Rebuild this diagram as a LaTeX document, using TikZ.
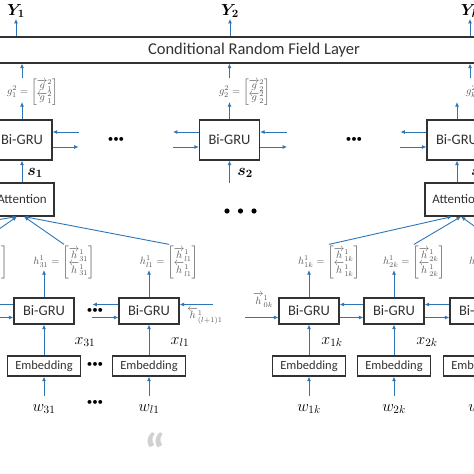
\documentclass[tikz,border=0pt]{standalone}
\usepackage{fix-cm}
\usepackage{amsmath}
\usepackage{bm}
\usepackage{fontspec}
\setmainfont{Carlito}
\usetikzlibrary{positioning, arrows.meta}

\definecolor{linkblue}{RGB}{46,117,182}
\definecolor{boxline}{RGB}{50,50,50}
\definecolor{labgray}{RGB}{85,85,85}

\newcommand{\vecpair}[3]{$#1^{#2}_{#3}=\begin{bmatrix}\overrightarrow{#1}^{#2}_{#3}\\ \overleftarrow{#1}^{#2}_{#3}\end{bmatrix}$}

\begin{document}
\begin{tikzpicture}[
    x=1pt, y=-1pt,
    gru/.style={rectangle, draw=boxline, line width=1.2pt, minimum width=60pt,
        minimum height=40pt, text=boxline, font=\fontsize{14.5}{16}\selectfont},
    grusmall/.style={gru, minimum height=26pt},
    emb/.style={rectangle, draw=boxline, line width=1.2pt, minimum width=73pt,
        minimum height=20pt, text=boxline, font=\fontsize{12.5}{14}\selectfont},
    att/.style={emb, minimum width=64pt, minimum height=33pt, font=\fontsize{13}{15}\selectfont},
    crf/.style={emb, minimum width=520pt, minimum height=26pt, font=\fontsize{16.5}{18}\selectfont},
    arr/.style={draw=linkblue, line width=1pt, -{Latex[length=4.5pt,width=4pt]}},
    feed/.style={draw=linkblue, line width=0.9pt, -{Latex[length=4.5pt,width=4pt]}},
    mlab/.style={inner sep=1pt, font=\fontsize{16}{18}\selectfont},
    wlab/.style={mlab, inner ysep=8pt},
    vlab/.style={inner sep=1pt, text=labgray, font=\fontsize{10.5}{12}\selectfont},
    dots/.style={inner sep=0pt, font=\fontsize{11}{12}\selectfont}
]
    \useasboundingbox (0,0) rectangle (474,474);
    \clip (0,0) rectangle (474,474);

    % CRF layer and outputs
    \node[crf] (crf) at (254,50) {Conditional Random Field Layer};
    \node[mlab] (y1) at (16,11) {$\bm{Y}_{\bm{1}}$};
    \node[mlab] (y2) at (230,11) {$\bm{Y}_{\bm{2}}$};
    \node[mlab] (yk) at (470,11) {$\bm{Y}_{\bm{k}}$};
    \foreach \y in {y1,y2,yk}
        \draw[arr] (crf.north -| \y) -- (\y.south);

    % Sentence-level Bi-GRU
    \node[gru] (u1) at (22,140) {Bi-GRU};
    \node[gru] (u2) at (229.5,140) {Bi-GRU};
    \node[gru] (uk) at (457,140) {Bi-GRU};
    \node[dots] (du1) at (116,140) {\textbullet\textbullet\textbullet};
    \node[dots] (du2) at (354,140) {\textbullet\textbullet\textbullet};

    \node[vlab] (g1) at (32.5,92) {\vecpair{g}{2}{1}};
    \node[vlab] (g2) at (244.5,92) {\vecpair{g}{2}{2}};
    \node[vlab, anchor=west] (gk) at (465,92) {\vecpair{g}{2}{k}};
    \foreach \u/\g in {u1/g1, u2/g2, uk/gk}
        \draw[arr, shorten >=10pt] (\u.north) -- (\u.north |- \g.center);
    \foreach \u/\g in {u1/g1, u2/g2}
        \draw[arr, shorten <=14pt] (\u.north |- \g.center) -- (\u.north |- crf.south);
    \draw[arr, shorten <=14pt] (yk |- gk.center) -- (yk |- crf.south);

    \draw[arr] ([xshift=26pt,yshift=8pt]u1.east) -- ([yshift=8pt]u1.east);
    \draw[arr] ([yshift=-7pt]u1.east) -- ([xshift=26pt,yshift=-7pt]u1.east);
    \draw[arr] ([yshift=8pt]u2.west) -- ([xshift=-26pt,yshift=8pt]u2.west);
    \draw[arr] ([xshift=-26pt,yshift=-7pt]u2.west) -- ([yshift=-7pt]u2.west);
    \draw[arr] ([xshift=27pt,yshift=8pt]u2.east) -- ([yshift=8pt]u2.east);
    \draw[arr] ([yshift=-7pt]u2.east) -- ([xshift=27pt,yshift=-7pt]u2.east);
    \draw[arr] ([yshift=8pt]uk.west) -- ([xshift=-26pt,yshift=8pt]uk.west);
    \draw[arr] ([xshift=-26pt,yshift=-7pt]uk.west) -- ([yshift=-7pt]uk.west);

    % Attention
    \node[att] (a1) at (22,199.5) {Attention};
    \node[att] (ak) at (457,199.5) {Attention};
    \coordinate (a2) at (229.5,183);
    \node[mlab] (s1) at (35,173) {$\bm{s}_{\bm{1}}$};
    \node[mlab] (s2) at (245,173) {$\bm{s}_{\bm{2}}$};
    \node[mlab] (sk) at (479,173) {$\bm{s}_{\bm{k}}$};
    \draw[arr] (a1) -- (u1);
    \draw[arr] (a2) -- (u2.south);
    \draw[arr] (ak) -- (uk);
    \foreach \x in {227,240.5,254}
        \fill (\x,211) circle (2.6pt);

    % Word-level Bi-GRU
    \foreach \n/\x/\o in {21/-43/33, 31/44/41, l1/149/31, 1k/309/23, 2k/394/33, 3k/480/33} {
        \node[grusmall] (b\n) at (\x,311) {Bi-GRU};
        \node[emb] (e\n) at (\x,366) {Embedding};
        \node[wlab] (w\n) at (\x,409) {$w_{\n}$};
        \node[mlab] (x\n) at (\x+\o,342) {$x_{\n}$};
        \node[vlab] (h\n) at (\x+20,262) {\vecpair{h}{1}{\n}};
        \draw[arr] (w\n) -- (e\n);
        \draw[arr] (e\n) -- (b\n);
        \draw[arr, shorten >=8pt] (b\n.north) -- (b\n.north |- h\n.center);
    }
    \foreach \a/\b in {21/31, 1k/2k, 2k/3k} {
        \draw[arr] ([yshift=6.5pt]b\b.west) -- ([yshift=6.5pt]b\a.east);
        \draw[arr] ([yshift=-6.5pt]b\a.east) -- ([yshift=-6.5pt]b\b.west);
    }
    \draw[arr] ([yshift=6.5pt]bl1.west) -- ([xshift=-26pt,yshift=6.5pt]bl1.west);
    \draw[arr] ([xshift=-26pt,yshift=-6.5pt]bl1.west) -- ([yshift=-6.5pt]bl1.west);
    \draw[arr] ([xshift=33pt,yshift=6.5pt]bl1.east) -- ([yshift=6.5pt]bl1.east);
    \draw[arr] ([xshift=-33pt,yshift=-6.5pt]b1k.west) -- ([yshift=-6.5pt]b1k.west);
    \node[vlab] (hback) at (205,316) {$\overleftarrow{h}^{1}_{(l+1)1}$};
    \node[vlab] (hfwd) at (263,300) {$\overrightarrow{h}^{1}_{0k}$};
    \foreach \y in {311,365,403}
        \node[dots] (dl\y) at (95,\y) {\textbullet\textbullet\textbullet};

    % Word vectors into attention
    \coordinate (h11) at (-120,239);
    \draw[feed] (h11) -- ([xshift=-5pt]a1.south);
    \draw[feed] (h21.north) -- ([xshift=-5pt]a1.south);
    \foreach \h in {h31, hl1}
        \draw[feed] (\h.north) -- ([xshift=2pt]a1.south);
    \draw[feed] (h1k.north) -- ([xshift=-5pt]ak.south);
    \foreach \h in {h2k, h3k}
        \draw[feed] (\h.north) -- ([xshift=4pt]ak.south);

    \node[text=black!18, font=\fontsize{50}{50}\selectfont\bfseries, anchor=base] (quote) at (155,469) {“};
\end{tikzpicture}
\end{document}
